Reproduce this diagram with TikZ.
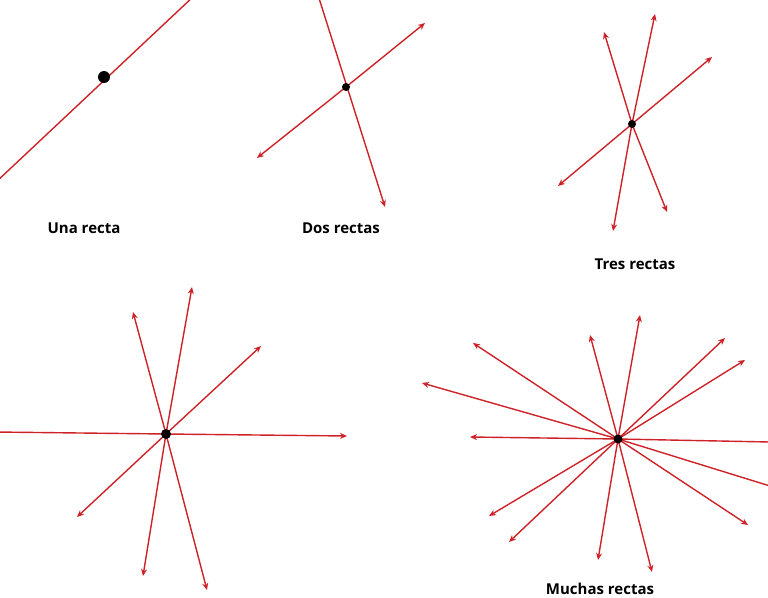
\documentclass[tikz,border=0pt]{standalone}
\usepackage{fontspec}
\setmainfont{Open Sans}
\usetikzlibrary{arrows.meta}
\definecolor{rayred}{RGB}{205,35,40}
\tikzset{
  ray/.style={-{Stealth[length=7pt,width=6pt]},rayred,line width=1.4pt},
  line/.style={rayred,line width=1.4pt},
  dot/.style={circle,fill=black,inner sep=0pt,minimum size=#1},
  lbl/.style={font=\bfseries\fontsize{15}{17}\selectfont}
}
\begin{document}
\begin{tikzpicture}[x=1pt,y=-1pt]
  \useasboundingbox (0,0) rectangle (768,597);
  % Una recta
  \coordinate (u1) at (-5,183);
  \coordinate (u2) at (195,-5);
  \draw[line] (u1) -- (u2);
  \node[lbl] (lu) at (84,228) {Una recta};
  % Dos rectas
  \coordinate (cd) at (346,87);
  \coordinate (d1) at (318,-5);
  \coordinate (d2) at (385,207);
  \coordinate (d3) at (257,158);
  \coordinate (d4) at (425,23);
  \draw[ray] (d1) -- (d2);
  \draw[ray] (cd) -- (d3);
  \draw[ray] (cd) -- (d4);
  \node[lbl] (ld) at (341,228) {Dos rectas};
  % Tres rectas
  \coordinate (ct) at (632,124);
  \foreach \p in {(604,32),(667,212),(655,14),(613,231),(558,186),(712,57)}
    \draw[ray] (ct) -- \p;
  \node[lbl] (lt) at (635,264) {Tres rectas};
  % Cuatro rectas
  \coordinate (cc) at (166,434);
  \draw[line] (cc) -- (-5,432);
  \foreach \p in {(347,436),(133,312),(207,590),(192,287),(143,576),(261,346),(77,517)}
    \draw[ray] (cc) -- \p;
  % Muchas rectas
  \coordinate (cm) at (618,439);
  \foreach \p in {(473,343),(422,383),(470,437),(489,516),(509,542),(598,560),
                  (652,572),(748,525),(745,360),(725,338),(640,315),(590,335)}
    \draw[ray] (cm) -- \p;
  \draw[line] (cm) -- (770,486);
  \draw[line] (cm) -- (770,442);
  \node[lbl] (lm) at (600,589) {Muchas rectas};
  % puntos
  \node[dot=12pt] at (104,77) {};
  \node[dot=8pt] at (cd) {};
  \node[dot=8pt] at (ct) {};
  \node[dot=10pt] at (cc) {};
  \node[dot=9pt] at (cm) {};
\end{tikzpicture}
\end{document}
